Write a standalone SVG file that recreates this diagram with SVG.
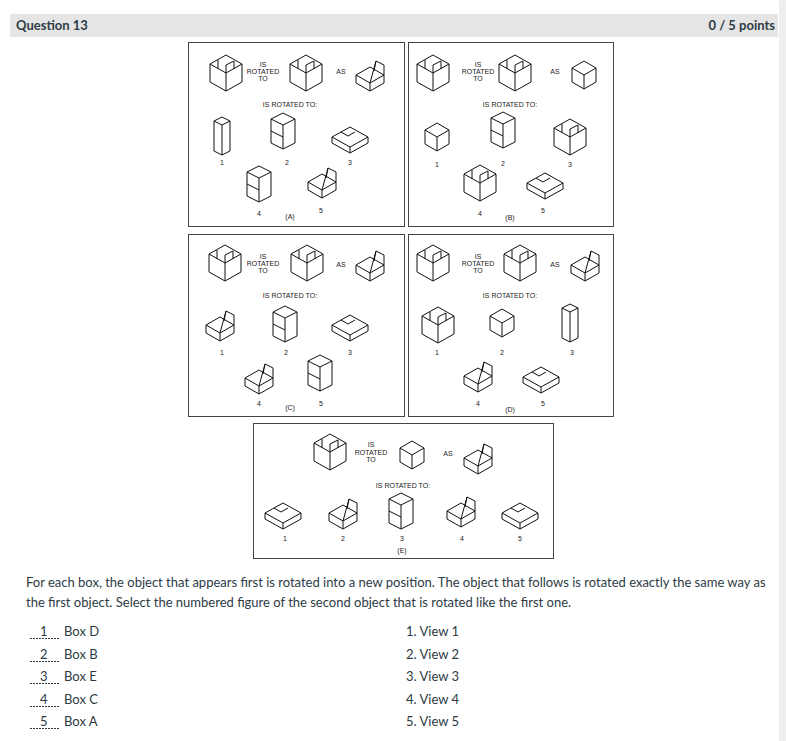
<svg xmlns="http://www.w3.org/2000/svg" width="786" height="741" viewBox="0 0 786 741">
<style>
.bx{fill:#fff;stroke:#444;stroke-width:1}
.sh{fill:#fff;stroke:#111;stroke-width:1;stroke-linejoin:round}
.t{font-family:"Liberation Sans",Arial,sans-serif;font-size:7px;fill:#222;text-anchor:middle}
.q{font-family:Lato,"Open Sans",sans-serif;font-size:13px;fill:#2d3b45}
.h{font-family:Lato,"Open Sans",sans-serif;font-size:13px;font-weight:bold;fill:#2d3b45}
</style>
<defs>
<path id="cube" class="sh" d="M0,-14 L12,-7 L12,7 L0,14 L-12,7 L-12,-7Z M-12,-7 L0,0 L12,-7 M0,0 L0,14"/>
<path id="tall" class="sh" d="M0,-20 L8,-16 L8,14 L0,18 L-8,14 L-8,-16Z M-8,-16 L0,-12 L8,-16 M0,-12 L0,18"/>
<path id="lsh" class="sh" d="M-16,-9 L0,-18 L16,-9 L16,9 L0,18 L-16,9Z M-16,-9 L0,0 L16,-9 M0,0 L0,18 M0,0 L0,-8 L8,-12 L8,-4 M-8,-4 L-8,-13"/>
<path id="wedge" class="sh" d="M-14,0 L0,-8 L14,0 L14,8 L0,16 L-14,8Z M-14,0 L0,8 L14,0 M0,8 L0,16 M0,8 L6,-14 L14,-10 L14,0 M6,-14 L4,-4"/>
<path id="flat" class="sh" d="M-18,0 L0,-10 L18,0 L18,6 L0,16 L-18,6Z M-18,0 L0,10 L18,0 M0,10 L0,16 M-9,-5 L-2,-1 L5,-5"/>
<path id="step" class="sh" d="M-12,-14 L0,-20 L12,-14 L12,10 L0,16 L-12,10Z M-12,-14 L0,-8 L12,-14 M0,-8 L0,16 M-12,-2 L0,4"/>
</defs>
<rect x="0" y="0" width="786" height="741" fill="#fff"/>
<rect x="10" y="14" width="768" height="23" fill="#e5e5e5"/>
<text class="h" x="16" y="30">Question 13</text>
<text class="h" x="775" y="30" text-anchor="end">0 / 5 points</text>
<rect x="779" y="0" width="7" height="741" fill="#eee"/>

<g id="boxA">
<rect class="bx" x="188.500" y="42.500" width="216" height="184"/>
<use href="#lsh" x="226" y="73"/>
<text class="t" x="263" y="67">IS</text><text class="t" x="263" y="74">ROTATED</text><text class="t" x="263" y="81">TO</text>
<use href="#lsh" x="306" y="73"/>
<text class="t" x="341" y="74">AS</text>
<use href="#wedge" x="370" y="75"/>
<text class="t" x="290" y="107">IS ROTATED TO:</text>
<use href="#tall" x="222" y="137"/><text class="t" x="222" y="165">1</text>
<use href="#step" x="283" y="133"/><text class="t" x="287" y="165">2</text>
<use href="#flat" x="350" y="137"/><text class="t" x="350" y="165">3</text>
<use href="#step" x="259" y="186"/><text class="t" x="259" y="216">4</text>
<text class="t" x="290" y="219">(A)</text>
<use href="#wedge" x="322" y="182"/><text class="t" x="321" y="213">5</text>
</g>
<g id="boxB">
<rect class="bx" x="408.500" y="42.500" width="205" height="184"/>
<use href="#lsh" x="433" y="73"/>
<text class="t" x="478" y="67">IS</text><text class="t" x="478" y="74">ROTATED</text><text class="t" x="478" y="81">TO</text>
<use href="#lsh" x="515" y="73"/>
<text class="t" x="555" y="74">AS</text>
<use href="#cube" x="584" y="75"/>
<text class="t" x="510" y="107">IS ROTATED TO:</text>
<use href="#cube" x="437" y="137"/><text class="t" x="437" y="167">1</text>
<use href="#step" x="503" y="132"/><text class="t" x="503" y="166">2</text>
<use href="#lsh" x="570" y="137"/><text class="t" x="570" y="167">3</text>
<use href="#lsh" x="480" y="183"/><text class="t" x="480" y="216">4</text>
<text class="t" x="510" y="220">(B)</text>
<use href="#flat" x="545" y="183"/><text class="t" x="543" y="213">5</text>
</g>
<g id="boxC">
<rect class="bx" x="188.500" y="234.500" width="216" height="182"/>
<use href="#lsh" x="225" y="263"/>
<text class="t" x="263" y="259">IS</text><text class="t" x="263" y="266">ROTATED</text><text class="t" x="263" y="273">TO</text>
<use href="#lsh" x="307" y="263"/>
<text class="t" x="341" y="267">AS</text>
<use href="#wedge" x="370" y="265"/>
<text class="t" x="290" y="298">IS ROTATED TO:</text>
<use href="#wedge" x="220" y="325"/><text class="t" x="222" y="355">1</text>
<use href="#step" x="285" y="326"/><text class="t" x="286" y="355">2</text>
<use href="#flat" x="350" y="325"/><text class="t" x="350" y="355">3</text>
<use href="#wedge" x="259" y="378"/><text class="t" x="259" y="406">4</text>
<text class="t" x="290" y="410">(C)</text>
<use href="#step" x="320" y="375"/><text class="t" x="321" y="406">5</text>
</g>
<g id="boxD">
<rect class="bx" x="408.500" y="234.500" width="205" height="182"/>
<use href="#lsh" x="433" y="263"/>
<text class="t" x="478" y="259">IS</text><text class="t" x="478" y="266">ROTATED</text><text class="t" x="478" y="273">TO</text>
<use href="#lsh" x="520" y="263"/>
<text class="t" x="555" y="267">AS</text>
<use href="#wedge" x="585" y="265"/>
<text class="t" x="510" y="298">IS ROTATED TO:</text>
<use href="#lsh" x="438" y="325"/><text class="t" x="437" y="355">1</text>
<use href="#cube" x="502" y="323"/><text class="t" x="502" y="355">2</text>
<use href="#tall" x="570" y="324"/><text class="t" x="572" y="355">3</text>
<use href="#wedge" x="478" y="376"/><text class="t" x="478" y="406">4</text>
<text class="t" x="510" y="412">(D)</text>
<use href="#flat" x="541" y="377"/><text class="t" x="543" y="406">5</text>
</g>
<g id="boxE">
<rect class="bx" x="253.500" y="423.500" width="300" height="135"/>
<use href="#lsh" x="330" y="452"/>
<text class="t" x="371" y="447">IS</text><text class="t" x="371" y="455">ROTATED</text><text class="t" x="371" y="462">TO</text>
<use href="#cube" x="412" y="455"/>
<text class="t" x="448" y="456">AS</text>
<use href="#wedge" x="478" y="458"/>
<text class="t" x="403" y="488">IS ROTATED TO:</text>
<use href="#flat" x="283" y="513"/><text class="t" x="285" y="541">1</text>
<use href="#wedge" x="343" y="513"/><text class="t" x="343" y="541">2</text>
<use href="#step" x="401" y="513"/><text class="t" x="402" y="541">3</text>
<text class="t" x="402" y="553">(E)</text>
<use href="#wedge" x="461" y="511"/><text class="t" x="462" y="541">4</text>
<use href="#flat" x="520" y="513"/><text class="t" x="520" y="541">5</text>
</g>

<text class="q" x="26" y="587">For each box, the object that appears first is rotated into a new position.  The object that follows is rotated exactly the same way as</text>
<text class="q" x="26" y="607">the first object.  Select the numbered figure of the second object that is rotated like the first one.</text>
<g class="q">
<text class="q" x="40" y="636">1</text><text class="q" x="64" y="636">Box D</text>
<text class="q" x="40" y="659">2</text><text class="q" x="64" y="659">Box B</text>
<text class="q" x="40" y="681">3</text><text class="q" x="64" y="681">Box E</text>
<text class="q" x="40" y="704">4</text><text class="q" x="64" y="704">Box C</text>
<text class="q" x="40" y="726">5</text><text class="q" x="64" y="726">Box A</text>
<text class="q" x="406" y="636">1. View 1</text>
<text class="q" x="406" y="659">2. View 2</text>
<text class="q" x="406" y="681">3. View 3</text>
<text class="q" x="406" y="704">4. View 4</text>
<text class="q" x="406" y="726">5. View 5</text>
</g>
<g stroke="#2d3b45" stroke-width="1" stroke-dasharray="2,1">
<line x1="30" y1="638.500" x2="60" y2="638.500"/>
<line x1="30" y1="661.500" x2="60" y2="661.500"/>
<line x1="30" y1="683.500" x2="60" y2="683.500"/>
<line x1="30" y1="706.500" x2="60" y2="706.500"/>
<line x1="30" y1="728.500" x2="60" y2="728.500"/>
</g>
</svg>
